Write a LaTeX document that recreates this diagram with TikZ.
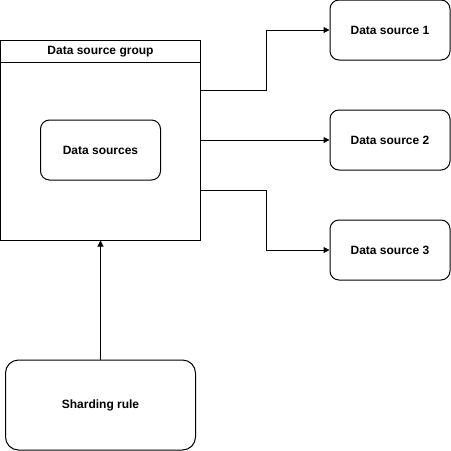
\documentclass[tikz,border=0pt]{standalone}
\usepackage{fontspec}
\setmainfont{Liberation Sans}
\usetikzlibrary{arrows.meta}
\begin{document}
\begin{tikzpicture}[x=1pt, y=-1pt, line width=1pt,
		every node/.style={font=\fontsize{12}{14}\selectfont\bfseries, inner sep=0pt},
		box/.style={draw, rounded corners=9pt, minimum width=120pt, minimum height=60pt},
		arr/.style={-{Triangle[length=6pt, width=6pt]}}]
			\useasboundingbox (0,0) rectangle (451,451);
			
			\node[draw, minimum width=200pt, minimum height=200pt] (group) at (100.5,140) {};
			\node (grouptitle) at (100.5,52) {Data source group};
			\draw ([yshift=-23pt]group.north west) -- ([yshift=-23pt]group.north east);
			\node[box] (sources) at (100.5,150) {Data sources};
			
			\foreach \i/\y in {1/30, 2/140, 3/250}
			{
				\node[box] (ds\i) at (390,\y) {Data source \i};
			}
			
			\node[box, rounded corners=13pt, minimum width=190pt, minimum height=90pt] (rule) at (100.5,405) {Sharding rule};
			
			\draw[arr] ([yshift=50pt]group.east) -- ++(65,0) |- (ds1.west);
			\draw[arr] (group.east) -- (ds2.west);
			\draw[arr] ([yshift=-50pt]group.east) -- ++(65,0) |- (ds3.west);
			\draw[arr] (rule.north) -- (group.south);
		\end{tikzpicture}
\end{document}
